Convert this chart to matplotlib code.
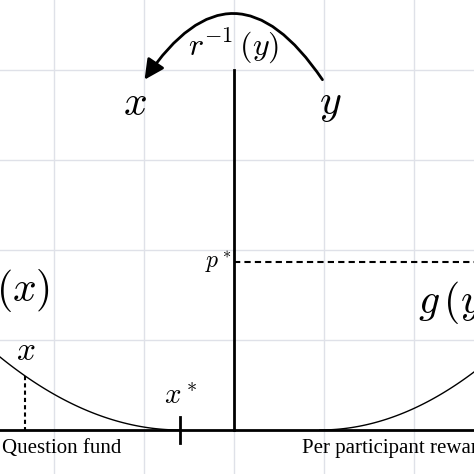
import matplotlib
matplotlib.use("Agg")
import matplotlib.pyplot as plt
import numpy as np
from matplotlib.patches import FancyArrowPatch

plt.rcParams['mathtext.fontset'] = 'cm'
grid_x = [54, 144, 234, 324, 414]
grid_y = [70, 160, 250, 340]
axis_y = 430
xstar = 180
pstar_y = 262
left_start = (0, 357)
right_vertex = 320
right_end = (474, 372)

fig = plt.figure(figsize=(4.74, 4.74), dpi=100)
ax = fig.add_axes([0, 0, 1, 1])
ax.set_xlim(0, 474); ax.set_ylim(474, 0); ax.axis('off')
for gx in grid_x:
    ax.axvline(gx, color='#dfe1e8', lw=1, zorder=0)
for gy in grid_y:
    ax.axhline(gy, color='#dfe1e8', lw=1, zorder=0)

ax.plot([0, 474], [axis_y, axis_y], 'k', lw=2)
ax.plot([234, 234], [70, axis_y], 'k', lw=2)
ax.plot([xstar, xstar], [417, 443], 'k', lw=2)
ax.plot([234, 474], [pstar_y, pstar_y], 'k--', lw=1.5, dashes=(3, 2))

# left parabola
xs = np.linspace(0, xstar, 100)
a = (axis_y - left_start[1]) / xstar**2
ys = axis_y - a * (xs - xstar)**2
ax.plot(xs, ys, 'k', lw=1)
xd = 25
ax.plot([xd, xd], [axis_y - a * (xd - xstar)**2, axis_y], 'k--', lw=1.5, dashes=(2, 1.5))

# right parabola
xr = np.linspace(right_vertex, 474, 100)
b = (axis_y - right_end[1]) / (474 - right_vertex)**2
ax.plot(xr, axis_y - b * (xr - right_vertex)**2, 'k', lw=1)

# arc arrow
arr = FancyArrowPatch((324, 82), (143, 82), connectionstyle="arc3,rad=0.75",
                      arrowstyle='-|>,head_length=8,head_width=4', color='k', lw=2,
                      mutation_scale=1.5)
ax.add_patch(arr)

ax.text(135, 103, r'$x$', fontsize=30, ha='center', va='center')
ax.text(330, 103, r'$y$', fontsize=30, ha='center', va='center')
ax.text(234, 46, r'$r^{-1}\,(y)$', fontsize=23, ha='center', va='center')
ax.text(231, 262, r'$p^*$', fontsize=17, ha='right', va='center')
ax.text(-4, 290, r'$(x)$', fontsize=30, ha='left', va='center')
ax.text(418, 303, r'$g\,(y$', fontsize=30, ha='left', va='center')
ax.text(26, 350, r'$x$', fontsize=24, ha='center', va='center')
ax.text(180, 396, r'$x^*$', fontsize=21, ha='center', va='center')
ax.text(2, 449, 'Question fund', fontsize=15, family='Liberation Serif', ha='left', va='center')
ax.text(302, 449, 'Per participant reward', fontsize=15, family='Liberation Serif', ha='left', va='center')
fig.savefig('out.png', dpi=100)
